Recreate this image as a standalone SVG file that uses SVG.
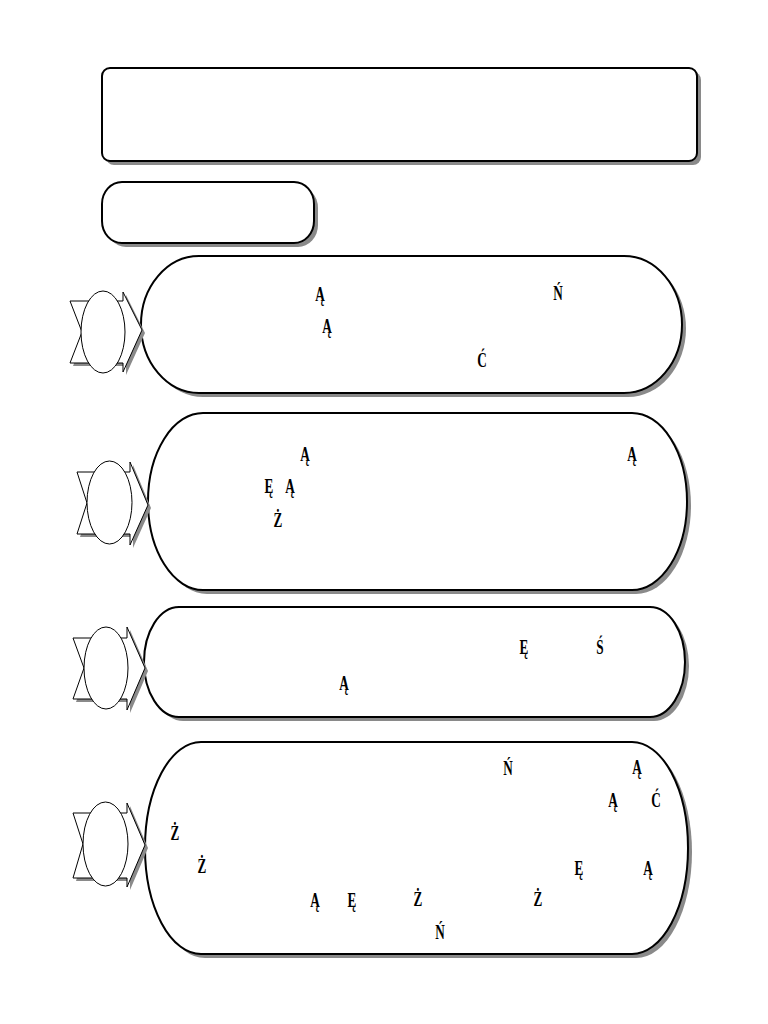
<svg xmlns="http://www.w3.org/2000/svg" width="768" height="1024" viewBox="0 0 768 1024">
<style>
.bg{fill:#ffffff}
.box{fill:#ffffff;stroke:#000;stroke-width:2}
.sh{fill:#8a8a8a;stroke:none}
.arr{fill:#ffffff;stroke:#000;stroke-width:1}
.ell{fill:#ffffff;stroke:#000;stroke-width:1}
.t{font-family:"Liberation Serif","Times New Roman",serif;font-weight:bold;font-size:22px;text-anchor:middle;fill:#000}
</style>
<rect class="bg" x="0" y="0" width="768" height="1024"/>
<g id="title-box">
<rect class="sh" x="106" y="72" width="595" height="93" rx="8"/>
<rect class="box" x="102" y="68" width="595" height="93" rx="8"/>
</g>
<g id="sub-box">
<rect class="sh" x="106" y="186" width="212" height="61" rx="20" ry="22"/>
<rect class="box" x="102" y="182" width="212" height="61" rx="20" ry="22"/>
</g>
<g id="node1">
<rect class="sh" x="145" y="260" width="541" height="137" rx="58" ry="68.5"/>
<rect class="box" x="141" y="256" width="541" height="137" rx="58" ry="68.5"/>
<polygon class="sh" points="73,304 126,304 126,295 145,333 126,375 126,366 73,366 85,335"/>
<polygon class="arr" points="70,301 123,301 123,292 142,330 123,372 123,363 70,363 82,332"/>
<ellipse class="ell" cx="103" cy="332" rx="22" ry="41"/>
<g transform="translate(320,301) scale(0.6,1)"><text class="t">Ą</text></g>
<g transform="translate(327,333) scale(0.6,1)"><text class="t">Ą</text></g>
<g transform="translate(558,300) scale(0.6,1)"><text class="t">Ń</text></g>
<g transform="translate(482,367) scale(0.6,1)"><text class="t">Ć</text></g>
</g>
<g id="node2">
<rect class="sh" x="152" y="417" width="539" height="177" rx="55" ry="88.5"/>
<rect class="box" x="148" y="413" width="539" height="177" rx="55" ry="88.5"/>
<polygon class="sh" points="80,475 133,475 133,465 151,508 133,548 133,537 80,537 90,506"/>
<polygon class="arr" points="77,472 130,472 130,462 148,505 130,545 130,534 77,534 87,503"/>
<ellipse class="ell" cx="109.5" cy="502.5" rx="22.5" ry="41.5"/>
<g transform="translate(305,461) scale(0.6,1)"><text class="t">Ą</text></g>
<g transform="translate(269,493) scale(0.6,1)"><text class="t">Ę</text></g>
<g transform="translate(290,493) scale(0.6,1)"><text class="t">Ą</text></g>
<g transform="translate(278,527) scale(0.6,1)"><text class="t">Ż</text></g>
<g transform="translate(632,461) scale(0.6,1)"><text class="t">Ą</text></g>
</g>
<g id="node3">
<rect class="sh" x="148" y="611" width="541" height="110" rx="35" ry="55"/>
<rect class="box" x="144" y="607" width="541" height="110" rx="35" ry="55"/>
<polygon class="sh" points="76,641 130,641 130,630 148,671 130,713 130,702 76,702 87,671"/>
<polygon class="arr" points="73,638 127,638 127,627 145,668 127,710 127,699 73,699 84,668"/>
<ellipse class="ell" cx="106" cy="668" rx="22" ry="41"/>
<g transform="translate(524,654) scale(0.6,1)"><text class="t">Ę</text></g>
<g transform="translate(600,654) scale(0.6,1)"><text class="t">Ś</text></g>
<g transform="translate(344,690) scale(0.6,1)"><text class="t">Ą</text></g>
</g>
<g id="node4">
<rect class="sh" x="149" y="746" width="543" height="212" rx="56" ry="106"/>
<rect class="box" x="145" y="742" width="543" height="212" rx="56" ry="106"/>
<polygon class="sh" points="76,816 130,816 130,806 148,848 130,890 130,881 76,881 86,847"/>
<polygon class="arr" points="73,813 127,813 127,803 145,845 127,887 127,878 73,878 83,844"/>
<ellipse class="ell" cx="105.5" cy="844" rx="22.5" ry="42"/>
<g transform="translate(508,775) scale(0.6,1)"><text class="t">Ń</text></g>
<g transform="translate(637,774) scale(0.6,1)"><text class="t">Ą</text></g>
<g transform="translate(613,807) scale(0.6,1)"><text class="t">Ą</text></g>
<g transform="translate(656,807) scale(0.6,1)"><text class="t">Ć</text></g>
<g transform="translate(175,840) scale(0.6,1)"><text class="t">Ż</text></g>
<g transform="translate(202,873) scale(0.6,1)"><text class="t">Ż</text></g>
<g transform="translate(579,875) scale(0.6,1)"><text class="t">Ę</text></g>
<g transform="translate(648,875) scale(0.6,1)"><text class="t">Ą</text></g>
<g transform="translate(315,907) scale(0.6,1)"><text class="t">Ą</text></g>
<g transform="translate(352,907) scale(0.6,1)"><text class="t">Ę</text></g>
<g transform="translate(418,906) scale(0.6,1)"><text class="t">Ż</text></g>
<g transform="translate(538,906) scale(0.6,1)"><text class="t">Ż</text></g>
<g transform="translate(440,939) scale(0.6,1)"><text class="t">Ń</text></g>
</g>
<g id="connectors"></g>
</svg>
